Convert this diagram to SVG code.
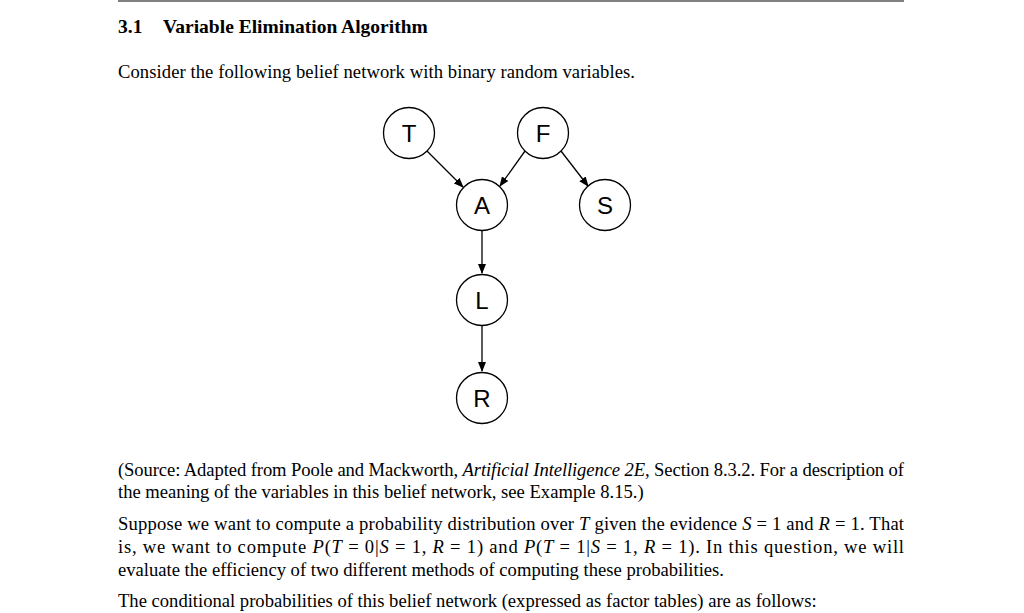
<svg xmlns="http://www.w3.org/2000/svg" width="1024" height="613" viewBox="0 0 1024 613">
<style>
.n{fill:#fff;stroke:#000;stroke-width:1.3}
.l{font-family:"Liberation Sans",Arial,sans-serif;font-size:24px;text-anchor:middle;dominant-baseline:central}
.t{font-family:"Liberation Serif","Times New Roman",serif;font-size:18.6px}
.e{stroke:#000;stroke-width:1.3;fill:none;marker-end:url(#a)}
</style>
<defs><marker id="a" markerWidth="10" markerHeight="8" refX="9" refY="4" orient="auto" markerUnits="userSpaceOnUse"><path d="M0,0L10,4L0,8z"/></marker></defs>
<rect width="1024" height="613" fill="#fff"/>
<line x1="118" y1="1" x2="904" y2="1" stroke="#000" stroke-width="1"/>
<text x="118" y="33" font-family="Liberation Serif,serif" font-size="19.5" font-weight="bold">3.1<tspan x="163">Variable Elimination Algorithm</tspan></text>
<text class="t" x="118" y="78" textLength="517" lengthAdjust="spacing">Consider the following belief network with binary random variables.</text>
<g id="edges">
<line class="e" x1="427" y1="151" x2="463" y2="187"/>
<line class="e" x1="525" y1="151" x2="500" y2="186"/>
<line class="e" x1="561" y1="151" x2="588" y2="186"/>
<line class="e" x1="482" y1="231" x2="482" y2="273"/>
<line class="e" x1="482" y1="326" x2="482" y2="371"/>
</g>
<g id="T"><circle class="n" cx="409" cy="133" r="25.5"/><text class="l" x="409" y="133">T</text></g>
<g id="F"><circle class="n" cx="543" cy="133" r="25.5"/><text class="l" x="543" y="133">F</text></g>
<g id="A"><circle class="n" cx="482" cy="205" r="25.5"/><text class="l" x="482" y="205">A</text></g>
<g id="S"><circle class="n" cx="605" cy="205" r="25.5"/><text class="l" x="605" y="205">S</text></g>
<g id="L"><circle class="n" cx="482" cy="300" r="25.5"/><text class="l" x="482" y="300">L</text></g>
<g id="R"><circle class="n" cx="482" cy="398" r="25.5"/><text class="l" x="482" y="398">R</text></g>
<text class="t" x="118" y="476" textLength="786" lengthAdjust="spacing">(Source: Adapted from Poole and Mackworth, <tspan font-style="italic">Artificial Intelligence 2E</tspan>, Section 8.3.2. For a description of</text>
<text class="t" x="118" y="498">the meaning of the variables in this belief network, see Example 8.15.)</text>
<text class="t" x="118" y="530" textLength="786" lengthAdjust="spacing">Suppose we want to compute a probability distribution over <tspan font-style="italic">T</tspan> given the evidence <tspan font-style="italic">S</tspan> = 1 and <tspan font-style="italic">R</tspan> = 1. That</text>
<text class="t" x="118" y="553" textLength="786" lengthAdjust="spacing">is, we want to compute <tspan font-style="italic">P</tspan>(<tspan font-style="italic">T</tspan> = 0|<tspan font-style="italic">S</tspan> = 1, <tspan font-style="italic">R</tspan> = 1) and <tspan font-style="italic">P</tspan>(<tspan font-style="italic">T</tspan> = 1|<tspan font-style="italic">S</tspan> = 1, <tspan font-style="italic">R</tspan> = 1). In this question, we will</text>
<text class="t" x="118" y="576">evaluate the efficiency of two different methods of computing these probabilities.</text>
<text class="t" x="118" y="607">The conditional probabilities of this belief network (expressed as factor tables) are as follows:</text>
</svg>
